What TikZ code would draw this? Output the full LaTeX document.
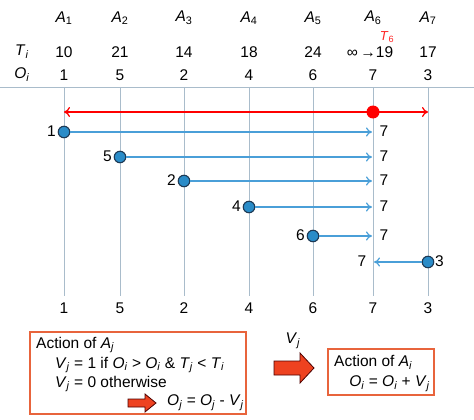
\documentclass[tikz,border=0pt]{standalone}
\usepackage{fontspec}
\setmainfont{Liberation Sans}
\usetikzlibrary{arrows.meta}
\definecolor{gridc}{HTML}{A9BCCB}
\definecolor{bluel}{HTML}{4A9FD8}
\definecolor{dotf}{HTML}{2A8CC8}
\definecolor{dotd}{HTML}{1E3A55}
\definecolor{boxc}{HTML}{E8643C}
\definecolor{arrf}{HTML}{EE4220}
\newcommand\vv[2]{\textit{#1}\textsubscript{\textit{#2}}}
\newcommand\vn[2]{\textit{#1}\textsubscript{#2}}
\begin{document}
\begin{tikzpicture}[x=1pt,y=-1pt,
  lab/.style={font=\fontsize{15.5}{18}\selectfont, inner sep=1pt},
  gridline/.style={draw=gridc, line width=0.8pt},
  bluearr/.style={draw=bluel, line width=1.2pt, -{To[length=6pt,width=9pt]}},
  bdot/.style={circle, fill=dotf, draw=dotd, line width=1.1pt, minimum size=11.5pt, inner sep=0pt},
  rdot/.style={circle, fill=red, minimum size=13pt, inner sep=0pt},
  obox/.style={draw=boxc, line width=1.4pt},
  blockarr/.style={fill=arrf, draw=black!70!red, line width=0.8pt}
]
\useasboundingbox (0,0) rectangle (474,420);
% header
\foreach \i/\x/\t/\o in {1/64/10/1, 2/120/21/5, 3/184/14/2, 4/249/18/4, 5/313/24/6, 7/428/17/3} {
  \node[lab] (a\i) at (\x,18) {\vn{A}{\i}};
  \node[lab] (t\i) at (\x,52) {\t};
  \node[lab] (o\i) at (\x,75) {\o};
  \node[lab] (b\i) at (\x,308) {\o};
  \coordinate (top\i) at (\x,87);
  \coordinate (bot\i) at (\x,296);
}
\node[lab] (a6) at (373,18) {\vn{A}{6}};
\node[lab] (t6) at (370,52) {∞\,→19};
\node[lab] (o6) at (373,75) {7};
\node[lab] (b6) at (373,308) {7};
\coordinate (top6) at (373,87);
\coordinate (bot6) at (373,296);
\node[lab, text=red!85!white, font=\fontsize{13}{15}\selectfont] (T6) at (387,37) {\vn{T}{6}};
\node[lab] (Ti) at (22,52) {\vv{T}{i}};
\node[lab] (Oi) at (22,75) {\vv{O}{i}};
% grid
\coordinate (hl) at (0,87);
\coordinate (hr) at (474,87);
\draw[gridline] (hl) -- (hr);
\foreach \i in {1,...,7} \draw[gridline] (top\i) -- (bot\i);
% red arrow
\coordinate (rl) at (64,112);
\coordinate (rr) at (428,112);
\draw[red, line width=1.3pt, {To[length=6pt,width=10pt]}-{To[length=6pt,width=10pt]}] (rl) -- (rr);
\node[rdot] (rd) at (373,112) {};
% blue arrows
\foreach \i/\x/\y/\v in {1/64/132/1, 2/120/157/5, 3/184/181/2, 4/249/207/4, 5/313/236/6} {
  \node[bdot] (d\i) at (\x,\y) {};
  \node[lab, anchor=east] (dl\i) at (\x-7,\y-1) {\v};
  \coordinate (e\i) at (372,\y);
  \node[lab] (s\i) at (384,\y-1) {7};
  \draw[bluearr] (d\i) -- (e\i);
}
\node[bdot] (d7) at (428,262) {};
\node[lab, anchor=west] (dl7) at (434,261) {3};
\coordinate (e7) at (374,262);
\node[lab] (s7) at (362,261) {7};
\draw[bluearr] (d7) -- (e7);
% box 1
\node[obox, minimum width=216pt, minimum height=82pt, inner sep=0pt] (box1) at (138,373) {};
\node[lab, anchor=west] (l1) at (35,345) {Action of \vv{A}{j}};
\node[lab, anchor=west] (l2) at (54,365) {\vv{V}{j} = 1 if \vv{O}{i} > \vv{O}{i} \& \vv{T}{j} < \vv{T}{i}};
\node[lab, anchor=west] (l3) at (54,384) {\vv{V}{j} = 0 otherwise};
\node[lab, anchor=east] (l4) at (245,403) {\vv{O}{j} = \vv{O}{j} - \vv{V}{j}};
\draw[blockarr] (128,399) -- (145,399) -- (145,394) -- (156,403) -- (145,412) -- (145,407) -- (128,407) -- cycle;
% middle arrow
\draw[blockarr] (274,361) -- (300,361) -- (300,353) -- (314,368) -- (300,383) -- (300,375) -- (274,375) -- cycle;
\node[lab] (vj) at (293,341) {\vv{V}{j}};
% box 2
\node[obox, minimum width=106pt, minimum height=46pt, inner sep=0pt] (box2) at (381,372) {};
\node[lab, anchor=west] (m1) at (333,362) {Action of \vv{A}{i}};
\node[lab, anchor=east] (m2) at (431,384) {\vv{O}{i} = \vv{O}{i} + \vv{V}{j}};
\end{tikzpicture}
\end{document}
